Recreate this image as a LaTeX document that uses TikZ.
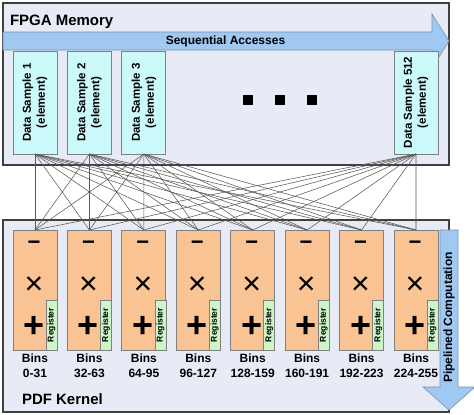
\documentclass[tikz,border=0pt]{standalone}
\usepackage{fontspec}
\setmainfont{Liberation Sans}
\definecolor{panelfill}{HTML}{E6EBF5}
\definecolor{panelline}{HTML}{404040}
\definecolor{arrowfill}{HTML}{9FC8F2}
\definecolor{arrowline}{HTML}{7F8FA6}
\definecolor{datafill}{HTML}{CCFAFA}
\definecolor{boxline}{HTML}{808080}
\definecolor{binfill}{HTML}{FAC393}
\definecolor{regfill}{HTML}{CCF5C8}
\definecolor{connline}{HTML}{5A5A5A}
\begin{document}
\begin{tikzpicture}[x=1pt,y=-1pt,
  every node/.style={inner sep=0pt,outer sep=0pt},
  panel/.style={draw=panelline,line width=1.3pt,fill=panelfill,minimum width=446pt},
  flowarrow/.style={draw=arrowline,line width=0.6pt,fill=arrowfill},
  databox/.style={draw=boxline,line width=0.8pt,fill=datafill,minimum width=44pt,minimum height=103pt},
  datatext/.style={rotate=90,align=center,font=\bfseries\fontsize{11.5}{14}\selectfont},
  binbox/.style={draw=boxline,line width=0.8pt,fill=binfill,minimum width=44pt,minimum height=120pt},
  regbox/.style={draw=boxline,line width=0.6pt,fill=regfill,minimum width=11pt,minimum height=50pt},
  regtext/.style={rotate=90,font=\bfseries\fontsize{8.5}{9}\selectfont},
  bintext/.style={align=center,font=\bfseries\fontsize{12}{15}\selectfont},
  title/.style={font=\bfseries\fontsize{15}{18}\selectfont},
  arrowtext/.style={font=\bfseries\fontsize{12}{14}\selectfont},
  dotbox/.style={fill=black,minimum size=10pt},
  conn/.style={draw=connline,line width=0.55pt}
]
\useasboundingbox (0,0) rectangle (474,415);
% panels
\node[panel,minimum height=162pt] (mem) at (226,84) {};
\node[panel,minimum height=192pt] (kern) at (226,316) {};
\node[title,anchor=base west] (memlabel) at (10,25) {FPGA Memory};
\node[title,anchor=base west] (kernlabel) at (22,404) {PDF Kernel};
% sequential accesses arrow
\draw[flowarrow] (3,32) -- (432,32) -- (432,14) -- (449,41) -- (432,68) -- (432,50) -- (3,50) -- cycle;
\node[arrowtext,anchor=base] (seqlabel) at (225.5,44.5) {Sequential Accesses};
% data samples
\node[databox] (d1) at (35,102.5) {};
\node[databox] (d2) at (89.43,102.5) {};
\node[databox] (d3) at (143.86,102.5) {};
\node[databox] (d512) at (416,102.5) {};
\node[datatext] (t1) at (d1) {Data Sample 1\\(element)};
\node[datatext] (t2) at (d2) {Data Sample 2\\(element)};
\node[datatext] (t3) at (d3) {Data Sample 3\\(element)};
\node[datatext] (t512) at (d512) {Data Sample 512\\(element)};
\node[dotbox] (dot1) at (248,100) {};
\node[dotbox] (dot2) at (280,100) {};
\node[dotbox] (dot3) at (312,100) {};
% bins
\foreach \i/\lo/\hi in {1/0/31,2/32/63,3/64/95,4/96/127,5/128/159,6/160/191,7/192/223,8/224/255}{
  \pgfmathsetmacro\cx{35+54.43*(\i-1)}
  \node[binbox] (b\i) at (\cx,290) {};
  \node[regbox] (r\i) at (\cx+16.5,325) {};
  \node[regtext] (rt\i) at (r\i) {Register};
  \node[font=\bfseries\fontsize{22}{22}\selectfont] (m\i) at (\cx-1,245) {−};
  \node[font=\fontsize{32}{32}\selectfont] (x\i) at (\cx-1,286) {×};
  \node[font=\bfseries\fontsize{36}{36}\selectfont] (p\i) at (\cx-1,327) {+};
  \node[bintext] (bl\i) at (\cx,366) {Bins\\\lo-\hi};
}
% connectors
\foreach \s in {1,2,3,512}{
  \foreach \i in {1,...,8}{
    \draw[conn] (d\s.south) -- (b\i.north);
  }
}
% pipelined arrow
\draw[flowarrow] (440,230) -- (458,230) -- (458,387) -- (475,387) -- (449,410) -- (423,387) -- (440,387) -- cycle;
\node[arrowtext,rotate=90] (pipelabel) at (449,317.5) {Pipelined Computation};
\end{tikzpicture}
\end{document}
